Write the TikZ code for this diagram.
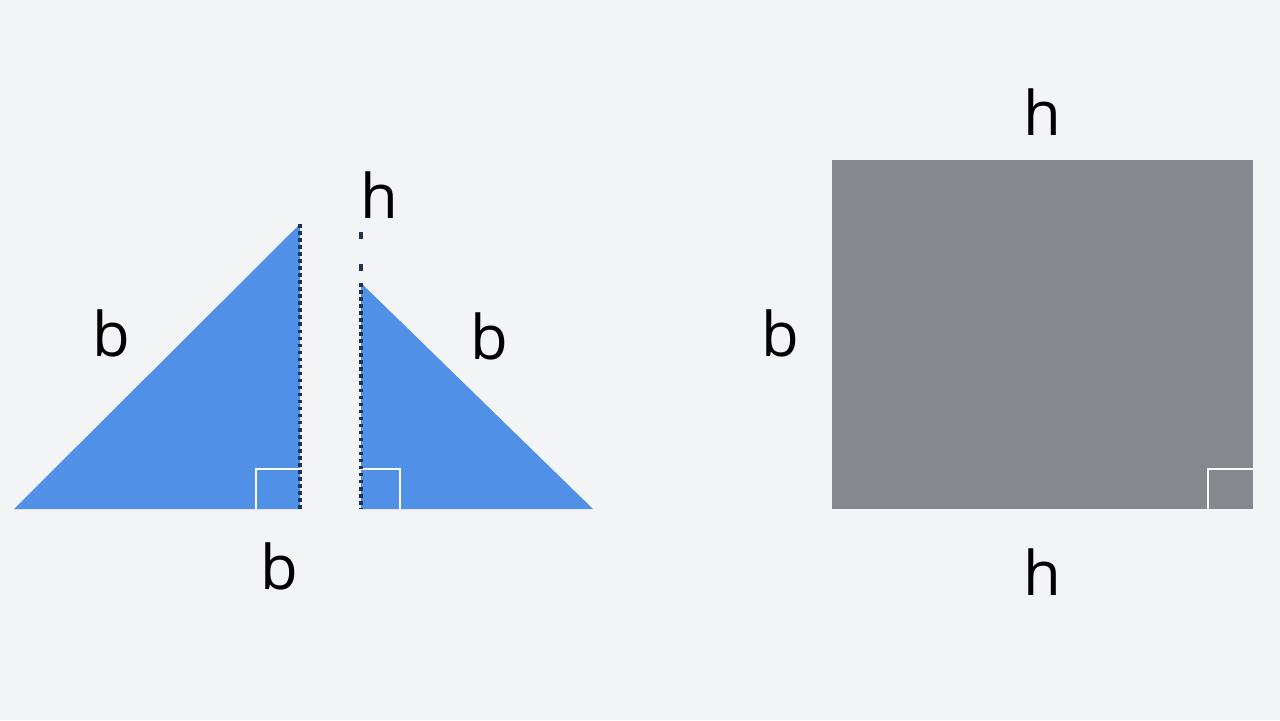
\documentclass[tikz,border=0pt]{standalone}
\usepackage{fontspec}
\setmainfont{Open Sans}
\definecolor{bgcol}{RGB}{243,244,246}
\definecolor{triblue}{RGB}{80,144,230}
\definecolor{rectgray}{RGB}{133,136,140}
\definecolor{dotnavy}{RGB}{30,50,90}
\begin{document}
\begin{tikzpicture}[x=0.01cm,y=-0.01cm,
    lbl/.style={font=\fontsize{17.5}{20}\selectfont, text=black},
    rightmark/.style={draw=white, line width=0.6pt},
    edgedots/.style={draw=dotnavy, densely dotted, line width=1pt}]
\fill[bgcol] (0,0) rectangle (1280,720);
\useasboundingbox (0,0) rectangle (1280,720);
% left triangle
\fill[triblue] (14,509) -- (300,224) -- (300,509) -- cycle;
\draw[rightmark] (300,469) -- (256,469) -- (256,509);
\draw[edgedots] (300,224) -- (300,509);
% right triangle
\fill[triblue] (361,283) -- (593,509) -- (361,509) -- cycle;
\draw[rightmark] (361,469) -- (400,469) -- (400,509);
\draw[edgedots] (361,283) -- (361,509);
\draw[draw=dotnavy, dash pattern=on 2pt off 7pt, line width=1pt] (361,232) -- (361,280);
% rectangle
\fill[rectgray] (832,160) rectangle (1253,509);
\draw[rightmark] (1253,469) -- (1208,469) -- (1208,509);
% labels
\node[lbl] (bl) at (111,333) {b};
\node[lbl] (bb) at (279,566) {b};
\node[lbl] (ht) at (379,195) {h};
\node[lbl] (br) at (489,336) {b};
\node[lbl] (hr) at (1042,112) {h};
\node[lbl] (hb) at (1042,572) {h};
\node[lbl] (bs) at (780,333) {b};
\end{tikzpicture}
\end{document}
